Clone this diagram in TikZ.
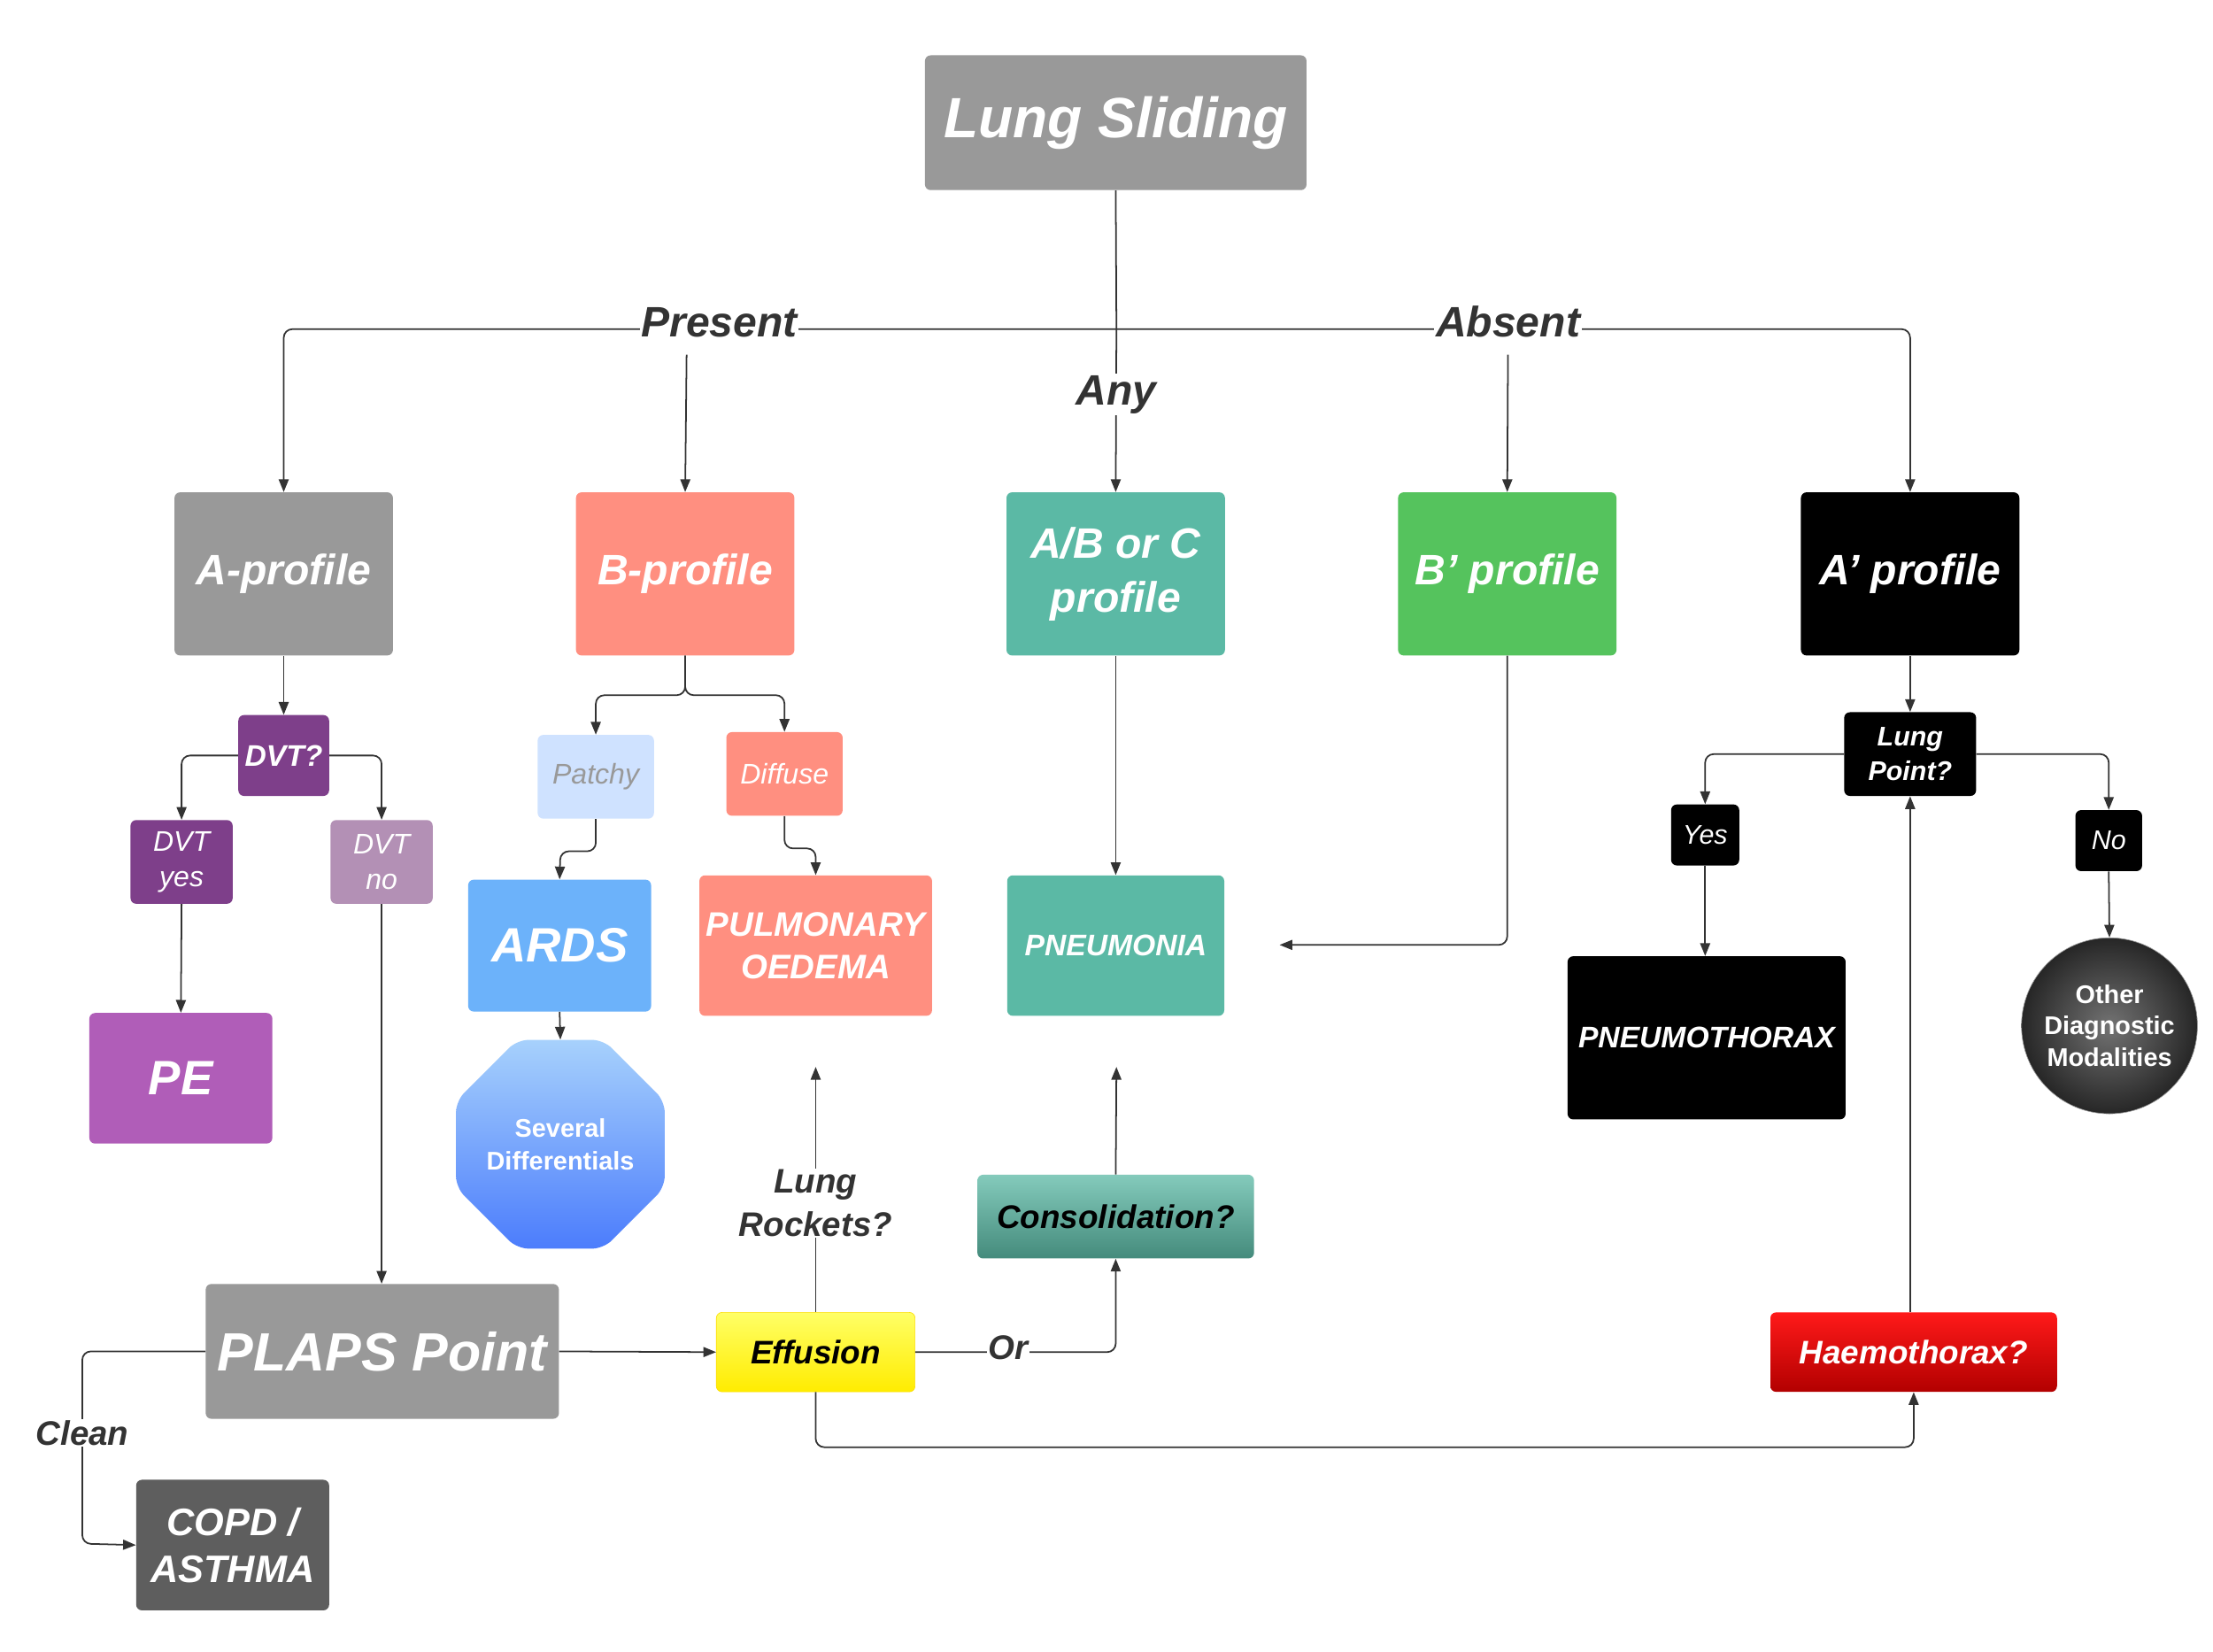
\documentclass[tikz,border=0pt]{standalone}
\usepackage{fontspec}
\setmainfont{Liberation Sans}
\usetikzlibrary{shapes.geometric,arrows.meta,calc}
\definecolor{gr}{HTML}{999999}
\definecolor{salm}{HTML}{FF8F80}
\definecolor{teal}{HTML}{5BB9A5}
\definecolor{grn}{HTML}{55C35D}
\definecolor{purp}{HTML}{7E3F8A}
\definecolor{lpurp}{HTML}{B390B5}
\definecolor{pe}{HTML}{B05DB8}
\definecolor{ards}{HTML}{6CB2FA}
\definecolor{patchy}{HTML}{CFE2FF}
\definecolor{ln}{HTML}{333333}
\begin{document}
\begin{tikzpicture}[x=1pt,y=-1pt,
 box/.style={rounded corners=4pt,draw=none,text=white,font=\bfseries\itshape,align=center,inner sep=0pt},
 con/.style={draw=ln,line width=1.1pt,rounded corners=6pt},
 arr/.style={con,-{Triangle[length=9pt,width=7pt]}},
 lab/.style={fill=white,inner sep=1pt,text=ln,font=\bfseries\itshape\fontsize{30}{34}\selectfont},
]
\useasboundingbox (0,0) rectangle (1560,1164);
\fill[white] (0,0) rectangle (1560,1164);
\newcommand{\bx}[7]{\node[box,fill=#6,minimum width=#3-#2,minimum height=#5-#4,font=\bfseries\itshape\fontsize{#7}{#7*1.2}\selectfont] (#1) at ({(#2+#3)/2},{(#4+#5)/2}) {};}
% boxes
\node[box,fill=gr,minimum width=269,minimum height=95,font=\bfseries\itshape\fontsize{40}{46}\selectfont] (ls) at (786.5,86.5) {Lung Sliding};
\node[box,fill=gr,minimum width=154,minimum height=115,font=\bfseries\itshape\fontsize{30}{36}\selectfont] (ap) at (200,404.5) {A-profile};
\node[box,fill=salm,minimum width=154,minimum height=115,font=\bfseries\itshape\fontsize{30}{36}\selectfont] (bp) at (483,404.5) {B-profile};
\node[box,fill=teal,minimum width=154,minimum height=115,font=\bfseries\itshape\fontsize{30}{38}\selectfont] (abc) at (786.5,404.5) {A/B or C\\profile};
\node[box,fill=grn,minimum width=154,minimum height=115,font=\bfseries\itshape\fontsize{30}{36}\selectfont] (bpp) at (1062.5,404.5) {B' profile};
\node[box,fill=black,minimum width=154,minimum height=115,font=\bfseries\itshape\fontsize{30}{36}\selectfont] (app) at (1346.5,404.5) {A' profile};
\node[box,fill=purp,minimum width=64,minimum height=57,font=\bfseries\itshape\fontsize{21}{25}\selectfont] (dvt) at (200,532.5) {DVT?};
\node[box,fill=purp,minimum width=72,minimum height=59,font=\itshape\fontsize{20}{25}\selectfont] (dy) at (128,607.5) {DVT\\yes};
\node[box,fill=lpurp,minimum width=72,minimum height=59,font=\itshape\fontsize{20}{25}\selectfont] (dn) at (269,607.5) {DVT\\no};
\node[box,fill=pe,minimum width=129,minimum height=92,font=\bfseries\itshape\fontsize{34}{40}\selectfont] (pe) at (127.5,760) {PE};
\node[box,fill=gr,minimum width=249,minimum height=95,font=\bfseries\itshape\fontsize{38}{44}\selectfont] (pl) at (269.5,952.5) {PLAPS Point};
\node[box,fill=black!63,minimum width=136,minimum height=92,font=\bfseries\itshape\fontsize{27}{33}\selectfont] (copd) at (164,1089) {COPD /\\ASTHMA};
\node[box,top color=yellow!60,bottom color=yellow!85!orange,draw=yellow!80!orange,text=black,minimum width=140,minimum height=56,font=\bfseries\itshape\fontsize{23}{28}\selectfont] (eff) at (575,953) {Effusion};
\node[box,top color=teal!75!white,bottom color=teal!75!black,text=black,minimum width=195,minimum height=59,font=\bfseries\itshape\fontsize{23}{28}\selectfont] (cons) at (786.5,857.5) {Consolidation?};
\node[box,top color=red!90,bottom color=red!70!black,minimum width=202,minimum height=56,font=\bfseries\itshape\fontsize{23}{28}\selectfont] (hae) at (1349,953) {Haemothorax?};
\node[box,fill=patchy,text=gr,minimum width=82,minimum height=59,font=\itshape\fontsize{20}{24}\selectfont] (pat) at (420,547.5) {Patchy};
\node[box,fill=salm,minimum width=82,minimum height=59,font=\itshape\fontsize{20}{24}\selectfont] (dif) at (553,545.5) {Diffuse};
\node[box,fill=ards,minimum width=129,minimum height=93,font=\bfseries\itshape\fontsize{34}{40}\selectfont] (ards) at (394.5,666.5) {ARDS};
\node[box,fill=salm,minimum width=164,minimum height=99,font=\bfseries\itshape\fontsize{24}{30}\selectfont] (po) at (575,666.5) {PULMONARY\\OEDEMA};
\node[regular polygon,regular polygon sides=8,minimum size=124,inner sep=0pt,rounded corners=8pt,top color=ards!60!white,bottom color=ards!70!blue,text=white,align=center,font=\bfseries\fontsize{18}{23}\selectfont] (sev) at (395,806.5) {Several\\Differentials};
\node[box,fill=teal,minimum width=153,minimum height=99,font=\bfseries\itshape\fontsize{21}{25}\selectfont] (pn) at (786.5,666.5) {PNEUMONIA};
\node[box,fill=black,minimum width=93,minimum height=59,font=\bfseries\itshape\fontsize{19}{24}\selectfont] (lp) at (1346.5,531.5) {Lung\\Point?};
\node[box,fill=black,minimum width=48,minimum height=43,font=\itshape\fontsize{19}{24}\selectfont] (yes) at (1202,588.5) {Yes};
\node[box,fill=black,minimum width=47,minimum height=43,font=\itshape\fontsize{19}{24}\selectfont] (no) at (1486.5,592.5) {No};
\node[box,fill=black,minimum width=196,minimum height=115,font=\bfseries\itshape\fontsize{21}{25}\selectfont] (ptx) at (1203,731.5) {PNEUMOTHORAX};
\node[circle,minimum size=124,inner sep=0pt,inner color=black!55,outer color=black!85,draw=black!40,text=white,align=center,font=\bfseries\fontsize{18}{22}\selectfont] (odm) at (1487,723) {Other\\Diagnostic\\Modalities};
% coordinates
\coordinate (j) at (787,232);
\coordinate (pres) at (484,250);
\coordinate (abs) at (1063,250);
\coordinate (pnR) at (902,666);
\coordinate (poB) at (575,752);
\coordinate (pnB) at (787,752);
% connectors
\draw[con] (ls.south) -- (j);
\draw[arr] (j) -| (ap.north);
\draw[arr] (j) -| (app.north);
\draw[arr] (j) -- (abc.north);
\draw[arr] (pres) -- (bp.north);
\draw[arr] (abs) -- (bpp.north);
\node[lab] at (507,227) {Present};
\node[lab] at (1063,227) {Absent};
\node[lab] at (787,278) {Any};
\draw[arr] (ap.south) -- (dvt.north);
\draw[arr] (dvt.west) -| (dy.north);
\draw[arr] (dvt.east) -| (dn.north);
\draw[arr] (dy.south) -- (pe.north);
\draw[arr] (dn.south) -- (dn.south|-pl.north);
\draw[arr] (pl.west) -| (58,1088) -- (copd.west);
\node[lab,font=\bfseries\itshape\fontsize{24}{28}\selectfont] at (58,1010) {Clean};
\draw[arr] (pl.east) -- (eff.west);
\draw[arr] (eff.north) -- (poB);
\node[lab,align=center,font=\bfseries\itshape\fontsize{24}{30}\selectfont] at (575,848) {Lung\\Rockets?};
\draw[arr] (eff.east) -| (cons.south);
\node[lab,font=\bfseries\itshape\fontsize{24}{28}\selectfont] at (711,950) {Or};
\draw[arr] (cons.north) -- (pnB);
\draw[arr] (eff.south) |- (1349,1020) -- (hae.south);
\draw[arr] (hae.north-|lp.south) -- (lp.south);
\draw[arr] (bp.south) |- (420,490) -- (pat.north);
\draw[arr] (bp.south) |- (553,490) -- (dif.north);
\draw[arr] (pat.south) |- (395,600) -- (ards.north);
\draw[arr] (dif.south) |- (575,598) -- (po.north);
\draw[arr] (ards.south) -- (sev.north);
\draw[arr] (abc.south) -- (pn.north);
\draw[arr] (bpp.south) |- (pnR);
\draw[arr] (app.south) -- (lp.north);
\draw[arr] (lp.west) -| (yes.north);
\draw[arr] (lp.east) -| (no.north);
\draw[arr] (yes.south) -- (yes.south|-ptx.north);
\draw[arr] (no.south) -- (odm.north);
\end{tikzpicture}
\end{document}
